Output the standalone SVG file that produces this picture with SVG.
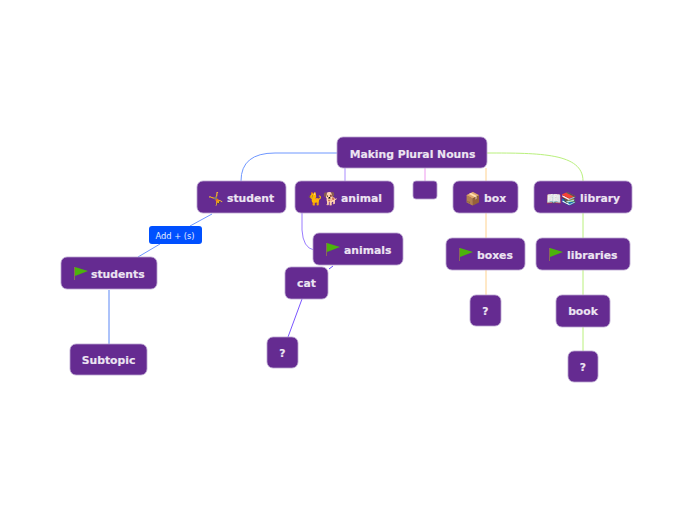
<svg xmlns="http://www.w3.org/2000/svg" width="697" height="520" viewBox="0 0 697 520">
<style>
.n{fill:#652b91;stroke:#b9a3cf;stroke-width:0.8}
.t{font-family:"DejaVu Sans",sans-serif;font-weight:700;font-size:10.8px;fill:#ece4f2;stroke:#ece4f2;stroke-width:0.15}
.c{text-anchor:middle}
.e{font-family:"Noto Color Emoji","DejaVu Sans",sans-serif;font-size:12.5px}
.l{fill:none;stroke-width:1}
.f{fill:#4cb30c}
.p{stroke:#8a6a5a;stroke-width:1}
</style>
<defs>
<g id="flag"><line class="p" x1="0.5" y1="0" x2="0.5" y2="13"/><polygon class="f" points="1,0 14,4 1,9"/></g>
</defs>
<rect width="697" height="520" fill="#fff"/>
<g id="connectors">
<path class="l" stroke="#6f97ff" d="M337 153H275Q241 153 241 181"/>
<path class="l" stroke="#a98cff" d="M345 168V181"/>
<path class="l" stroke="#ee99ee" d="M425 168V181"/>
<path class="l" stroke="#ffd28f" d="M486 168V181M486 213V238M486 270V295"/>
<path class="l" stroke="#b9f07c" d="M487 153C540 153 583 153 583 181M583 213V238M583 270V295M583 326V351"/>
<path class="l" stroke="#6f97ff" d="M212 214L190 226M160 244L138 257"/>
<path class="l" stroke="#5a86f5" d="M109 290V344"/>
<path class="l" stroke="#9a7cff" d="M302 213V230Q303 248 314 250"/>
<path class="l" stroke="#6a4cff" d="M333 266L329 269"/>
<path class="l" stroke="#7a55ff" d="M302 299L288 337"/>
</g>
<g id="root"><rect class="n" x="337" y="137" width="150" height="31" rx="6"/><text class="t c" x="412.500" y="157.500">Making Plural Nouns</text></g>
<g id="student"><rect class="n" x="197" y="181" width="89" height="32" rx="6"/><text class="e" x="208" y="202.500">🤸</text><text class="t" x="227" y="202">student</text></g>
<g id="animal"><rect class="n" x="295" y="181" width="99" height="32" rx="6"/><text class="e" x="307.500" y="202.500">🐈🐕</text><text class="t" x="341" y="202">animal</text></g>
<g id="blank"><rect class="n" x="413" y="181" width="24" height="18" rx="3"/></g>
<g id="box"><rect class="n" x="453" y="181" width="65" height="32" rx="6"/><text class="e" x="465" y="202.500">📦</text><text class="t" x="484" y="202">box</text></g>
<g id="library"><rect class="n" x="534" y="181" width="98" height="32" rx="6"/><text class="e" x="546" y="202.500">📖📚</text><text class="t" x="580" y="202">library</text></g>
<g id="add"><rect x="149" y="226" width="53" height="18" rx="3" fill="#0050ff"/><text x="175" y="238.500" text-anchor="middle" font-family="DejaVu Sans, sans-serif" font-size="8.300px" fill="#e6eeff">Add + (s)</text></g>
<g id="students"><rect class="n" x="61" y="257" width="96" height="32" rx="6"/><use href="#flag" x="74" y="267"/><text class="t" x="91" y="277.500">students</text></g>
<g id="animals"><rect class="n" x="313" y="233" width="90" height="32" rx="6"/><use href="#flag" x="326" y="243"/><text class="t" x="344" y="254">animals</text></g>
<g id="boxes"><rect class="n" x="446" y="238" width="79" height="32" rx="6"/><use href="#flag" x="459" y="248"/><text class="t" x="477" y="259">boxes</text></g>
<g id="libraries"><rect class="n" x="536" y="238" width="94" height="32" rx="6"/><use href="#flag" x="549" y="248"/><text class="t" x="567" y="259">libraries</text></g>
<g id="cat"><rect class="n" x="285" y="267" width="43" height="32" rx="6"/><text class="t c" x="306.500" y="287">cat</text></g>
<g id="q1"><rect class="n" x="470" y="295" width="31" height="31" rx="6"/><text class="t c" x="485.500" y="315">?</text></g>
<g id="book"><rect class="n" x="556" y="295" width="54" height="32" rx="6"/><text class="t c" x="583" y="315">book</text></g>
<g id="subtopic"><rect class="n" x="70" y="344" width="77" height="31" rx="6"/><text class="t c" x="108.500" y="364">Subtopic</text></g>
<g id="q2"><rect class="n" x="267" y="337" width="31" height="31" rx="6"/><text class="t c" x="282.500" y="357">?</text></g>
<g id="q3"><rect class="n" x="568" y="351" width="30" height="31" rx="6"/><text class="t c" x="583" y="371">?</text></g>
</svg>
